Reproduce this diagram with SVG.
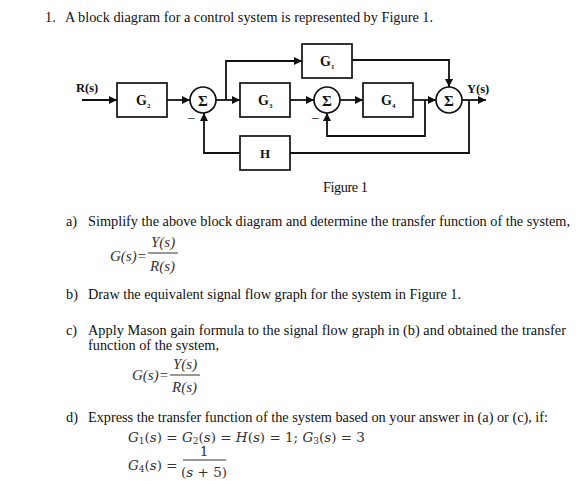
<svg xmlns="http://www.w3.org/2000/svg" width="588" height="481" viewBox="0 0 588 481">
<style>
.t{font-family:"Liberation Serif","Times New Roman",serif;font-size:14.3px;fill:#111}
.b{font-family:"Liberation Serif","Times New Roman",serif;font-weight:bold;fill:#111}
.m{font-family:"Liberation Serif","Times New Roman",serif;font-style:italic;font-size:15px;fill:#333}
.n{font-family:"DejaVu Serif","Liberation Serif",serif;font-size:13.5px;fill:#333}
.i{font-style:italic}
.box{fill:#fff;stroke:#111;stroke-width:1.7}
.sum{fill:#fff;stroke:#111;stroke-width:1.7}
.ln{fill:none;stroke:#111;stroke-width:1.8}
</style>
<defs>
<marker id="ah" viewBox="0 0 10 10" refX="10" refY="5" markerWidth="10" markerHeight="8" markerUnits="userSpaceOnUse" orient="auto">
<path d="M0,0 L10,5 L0,10 z" fill="#111"/>
</marker>
</defs>
<rect width="588" height="481" fill="#fff"/>

<text class="t" x="45" y="22">1.</text>
<text class="t" x="65" y="22" textLength="368">A block diagram for a control system is represented by Figure 1.</text>

<g id="connectors">
<path class="ln" d="M82,100 H117" marker-end="url(#ah)"/>
<path class="ln" d="M167,100 H190" marker-end="url(#ah)"/>
<path class="ln" d="M216,100 H240" marker-end="url(#ah)"/>
<path class="ln" d="M226,100 V61 H302" marker-end="url(#ah)"/>
<path class="ln" d="M290,100 H314" marker-end="url(#ah)"/>
<path class="ln" d="M340,100 H363" marker-end="url(#ah)"/>
<path class="ln" d="M413,100 H436" marker-end="url(#ah)"/>
<path class="ln" d="M425,100 V136 H327 V113" marker-end="url(#ah)"/>
<path class="ln" d="M352,60 H449 V87" marker-end="url(#ah)"/>
<path class="ln" d="M462,100 H486" marker-end="url(#ah)"/>
<path class="ln" d="M469,100 V153 H290"/>
<path class="ln" d="M240,153 H204 V113" marker-end="url(#ah)"/>
</g>

<g id="R"><text class="b" x="76" y="92" font-size="12.5">R(s)</text></g>
<g id="Y"><text class="b" x="467" y="93" font-size="12.5">Y(s)</text></g>

<g id="G2"><rect class="box" x="117" y="83" width="50" height="34"/>
<text class="b" x="136" y="105" font-size="14">G<tspan font-size="7" dy="3">2</tspan></text></g>
<g id="S1"><circle class="sum" cx="203" cy="100" r="13"/>
<text class="b" x="203" y="105.5" font-size="15" text-anchor="middle">Σ</text>
<text class="t" x="187" y="123" font-size="12" fill="#777">−</text></g>
<g id="G3"><rect class="box" x="240" y="83" width="50" height="34"/>
<text class="b" x="258" y="105" font-size="14">G<tspan font-size="7" dy="3">3</tspan></text></g>
<g id="G1"><rect class="box" x="302" y="44" width="50" height="34"/>
<text class="b" x="320" y="66" font-size="14">G<tspan font-size="7" dy="3">1</tspan></text></g>
<g id="H"><rect class="box" x="240" y="136" width="50" height="34"/>
<text class="b" x="265" y="158" font-size="13" text-anchor="middle">H</text></g>
<g id="S2"><circle class="sum" cx="327" cy="100" r="13"/>
<text class="b" x="327" y="105.5" font-size="15" text-anchor="middle">Σ</text>
<text class="t" x="311" y="123" font-size="12" fill="#777">−</text></g>
<g id="G4"><rect class="box" x="363" y="83" width="50" height="34"/>
<text class="b" x="381" y="105" font-size="14">G<tspan font-size="7" dy="3">4</tspan></text></g>
<g id="S3"><circle class="sum" cx="449" cy="100" r="13"/>
<text class="b" x="449" y="105.5" font-size="15" text-anchor="middle">Σ</text></g>

<text class="t" x="323" y="192" font-size="13" textLength="45">Figure 1</text>

<text class="t" x="66" y="226">a)</text>
<text class="t" x="88" y="226" textLength="482">Simplify the above block diagram and determine the transfer function of the system,</text>
<text class="m" x="110" y="261">G(s)=</text>
<text class="m" x="151" y="247">Y(s)</text>
<line x1="148" y1="253" x2="178" y2="253" stroke="#333" stroke-width="1"/>
<text class="m" x="150" y="271">R(s)</text>

<text class="t" x="66" y="299">b)</text>
<text class="t" x="88" y="299" textLength="373">Draw the equivalent signal flow graph for the system in Figure 1.</text>

<text class="t" x="66" y="335">c)</text>
<text class="t" x="88" y="335" textLength="478">Apply Mason gain formula to the signal flow graph in (b) and obtained the transfer</text>
<text class="t" x="88" y="350">function of the system,</text>
<text class="m" x="132" y="380">G(s)=</text>
<text class="m" x="173" y="369">Y(s)</text>
<line x1="170" y1="375" x2="200" y2="375" stroke="#333" stroke-width="1"/>
<text class="m" x="172" y="392">R(s)</text>

<text class="t" x="66" y="422">d)</text>
<text class="t" x="88" y="422" textLength="460">Express the transfer function of the system based on your answer in (a) or (c), if:</text>
<text class="n" x="128" y="442"><tspan class="i">G</tspan><tspan font-size="9" dy="2">1</tspan><tspan dy="-2">(</tspan><tspan class="i">s</tspan>) = <tspan class="i">G</tspan><tspan font-size="9" dy="2">2</tspan><tspan dy="-2">(</tspan><tspan class="i">s</tspan>) = <tspan class="i">H</tspan>(<tspan class="i">s</tspan>) = 1;  <tspan class="i">G</tspan><tspan font-size="9" dy="2">3</tspan><tspan dy="-2">(</tspan><tspan class="i">s</tspan>) = 3</text>
<text class="n" x="128" y="470"><tspan class="i">G</tspan><tspan font-size="9" dy="2">4</tspan><tspan dy="-2">(</tspan><tspan class="i">s</tspan>) =</text>
<text class="n" x="204" y="456" text-anchor="middle">1</text>
<line x1="183" y1="460" x2="226" y2="460" stroke="#333" stroke-width="1"/>
<text class="n" x="204" y="477" text-anchor="middle">(<tspan class="i">s</tspan> + 5)</text>
</svg>
